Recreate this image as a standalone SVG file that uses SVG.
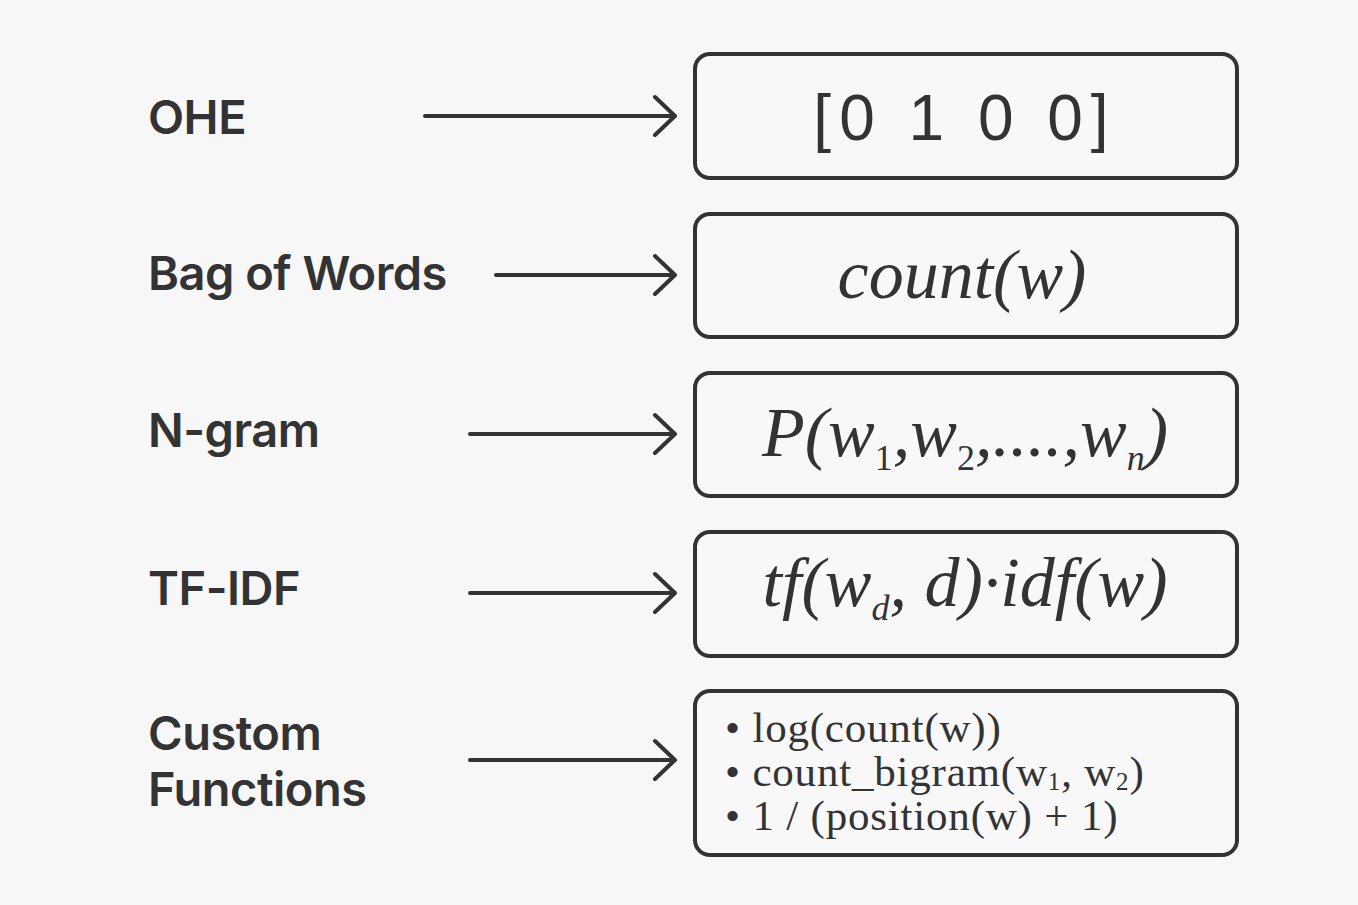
<svg xmlns="http://www.w3.org/2000/svg" width="1358" height="905" viewBox="0 0 1358 905">
<style>
.lbl{font-family:Inter,"Liberation Sans",Arial,sans-serif;font-size:47px;fill:#333;font-weight:600;letter-spacing:-0.5px}
.box{fill:#f8f8f8;stroke:#333;stroke-width:4}
.m{font-family:"Liberation Serif","DejaVu Serif",serif;font-style:italic;font-size:70px;fill:#333}
.li{font-family:"Liberation Serif","DejaVu Serif",serif;font-size:43px;fill:#333;letter-spacing:0.8px}
.ar{stroke:#333;stroke-width:4;fill:none;stroke-linecap:round;stroke-linejoin:round}
</style>
<rect width="1358" height="905" fill="#f7f7f7"/>
<g id="n1"><text class="lbl" x="148" y="134">OHE</text><rect class="box" x="695" y="54" width="542" height="124" rx="15"/><text x="965" y="140" text-anchor="middle" font-family="Liberation Sans,Arial,sans-serif" font-size="64" fill="#333" letter-spacing="8" xml:space="preserve">[0 1 0 0]</text></g>
<g id="n2"><text class="lbl" x="148" y="290">Bag of Words</text><rect class="box" x="695" y="214" width="542" height="123" rx="15"/><text class="m" x="962" y="298" text-anchor="middle">count(w)</text></g>
<g id="n3"><text class="lbl" x="148" y="447">N-gram</text><rect class="box" x="695" y="373" width="542" height="123" rx="15"/><text class="m" x="965" y="456" text-anchor="middle">P(w<tspan font-size="36" dy="14" font-style="normal">1</tspan><tspan dy="-14">,w</tspan><tspan font-size="36" dy="14" font-style="normal">2</tspan><tspan dy="-14">,....,w</tspan><tspan font-size="36" dy="14">n</tspan><tspan dy="-14">)</tspan></text></g>
<g id="n4"><text class="lbl" x="148" y="605">TF-IDF</text><rect class="box" x="695" y="532" width="542" height="124" rx="15"/><text class="m" x="965" y="606" text-anchor="middle">tf(w<tspan font-size="36" dy="14">d</tspan><tspan dy="-14">, d)·idf(w)</tspan></text></g>
<g id="n5"><text class="lbl" x="148" y="750">Custom</text><text class="lbl" x="148" y="806">Functions</text><rect class="box" x="695" y="691" width="542" height="164" rx="15"/>
<text class="li" x="725" y="742">• log(count(w))</text>
<text class="li" x="725" y="786">• count_bigram(w<tspan font-size="25" dy="4">1</tspan><tspan dy="-4">, w</tspan><tspan font-size="25" dy="4">2</tspan><tspan dy="-4">)</tspan></text>
<text class="li" x="725" y="830">• 1 / (position(w) + 1)</text></g>
<g id="connectors">
<path class="ar" d="M425 116H675M655 97L675 116L655 135"/>
<path class="ar" d="M496 275H675M655 256L675 275L655 294"/>
<path class="ar" d="M470 434H675M655 415L675 434L655 453"/>
<path class="ar" d="M470 593H675M655 574L675 593L655 612"/>
<path class="ar" d="M470 760H675M655 741L675 760L655 779"/>
</g>
</svg>
